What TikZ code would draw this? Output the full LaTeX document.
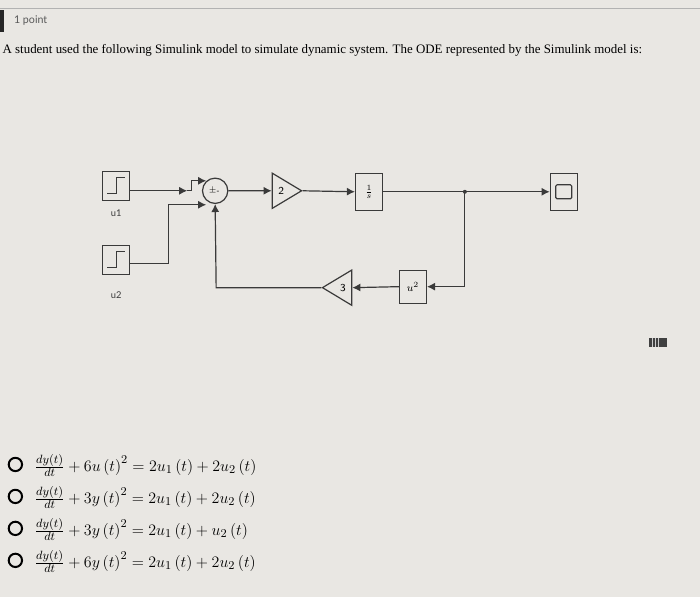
\documentclass[tikz,border=0pt]{standalone}
\usepackage{fontspec}
\setmainfont{Liberation Serif}
\newfontfamily\uisans{Lato}
\usepackage{amsmath}
\usetikzlibrary{shapes.geometric,arrows.meta}
\definecolor{bg}{HTML}{E9E7E3}
\definecolor{ln}{HTML}{3A3A3A}
\begin{document}
\begin{tikzpicture}[x=0.75pt,y=-0.75pt,
  blk/.style={draw=ln,line width=0.9pt,fill=bg,minimum width=20.25pt,inner sep=0pt,font=\footnotesize},
  tri/.style={draw=ln,line width=0.9pt,fill=bg,isosceles triangle,isosceles triangle apex angle=62,inner sep=0pt,minimum height=22pt,font=\footnotesize\sffamily,anchor=center},
  wire/.style={draw=ln,line width=0.9pt},
  arr/.style={wire,-{Latex[length=6pt,width=6pt]}},
  lbl/.style={font=\uisans\scriptsize,text=ln},
  opt/.style={draw=black,line width=1.5pt,circle,minimum size=10pt,inner sep=0pt},
  eq/.style={anchor=west,font=\fontsize{12.5}{14}\selectfont,inner sep=0pt}]
\fill[bg] (0,0) rectangle (700,598);
\draw[gray!60,line width=0.6pt] (0,8) -- (700,8);
\fill[black!85] (0,10) rectangle (4,32);
\node[anchor=west,font=\uisans\footnotesize,text=black!65] (pt) at (9,21) {1 point};
\node[anchor=west,font=\fontsize{9.7}{11}\selectfont,inner sep=0pt] (q) at (2,50) {A student used the following Simulink model to simulate dynamic system. The ODE represented by the Simulink model is:};
% blocks
\node[blk,minimum height=21.75pt] (u1) at (116,186) {};
\draw[ln,line width=0.9pt] (107,194) -- (116,194) -- (116,178) -- (125,178);
\node[lbl] (u1l) at (116,213) {u1};
\node[blk,minimum height=21.75pt] (u2) at (116,260) {};
\draw[ln,line width=0.9pt] (107,268) -- (116,268) -- (116,252) -- (125,252);
\node[lbl] (u2l) at (116,296) {u2};
\node[draw=ln,line width=0.9pt,circle,minimum size=19pt,inner sep=0pt,fill=bg] (sum) at (215,191) {};
\node[font=\fontsize{6}{6}\selectfont,inner sep=0pt] (sg) at (214,191) {$\pm$\raisebox{-1pt}{-}};
\node[tri] (g2) at (281,191) {2};
\node[blk,minimum height=27.75pt] (int) at (369,192) {$\frac{1}{s}$};
\node[blk,minimum height=27.75pt] (sc) at (564,192) {};
\draw[ln,line width=0.9pt,rounded corners=1pt] (556,185) rectangle (572,199);
\node[blk,minimum height=24.75pt] (sq) at (413,287) {$u^2$};
\node[tri,shape border rotate=180] (g3) at (343,288) {3};
\coordinate (j) at (465,192);
\fill[ln] (j) circle (2);
% wires
\coordinate (a1) at (187,191);
\draw[arr] (u1.east |- a1) -- (a1);
\draw[arr] (a1) -- (191,191) -- (191,181) -- (206,181);
\draw[arr] (u2.east |- 0,264) -- (168,264) -- (168,205) -- (206,205);
\draw[arr] (sum.east) -- (g2.west);
\draw[arr] (g2.east) -- (int.west);
\draw[arr] (int.east) -- (sc.west);
\draw[arr] (j) -- (465,287) -- (sq.east);
\draw[arr] (sq.west) -- (g3.east);
\draw[arr] (g3.west) -- (216,288) -- (sum.south);
% icon
\fill[black!75] (649,338) rectangle (667,347);
\foreach \xx in {652,655,658}{\fill[white!80!black] (\xx,338) rectangle (\xx+0.8,347);}
% options
\foreach \yy/\nm in {465/o1,497/o2,529/o3,561/o4}{\node[opt] (\nm) at (15,\yy) {};}
\node[eq] (e1) at (34,466) {$\tfrac{dy(t)}{dt}+6u\left(t\right)^{2}=2u_{1}\left(t\right)+2u_{2}\left(t\right)$};
\node[eq] (e2) at (34,498) {$\tfrac{dy(t)}{dt}+3y\left(t\right)^{2}=2u_{1}\left(t\right)+2u_{2}\left(t\right)$};
\node[eq] (e3) at (34,530) {$\tfrac{dy(t)}{dt}+3y\left(t\right)^{2}=2u_{1}\left(t\right)+u_{2}\left(t\right)$};
\node[eq] (e4) at (34,562) {$\tfrac{dy(t)}{dt}+6y\left(t\right)^{2}=2u_{1}\left(t\right)+2u_{2}\left(t\right)$};
\end{tikzpicture}
\end{document}
